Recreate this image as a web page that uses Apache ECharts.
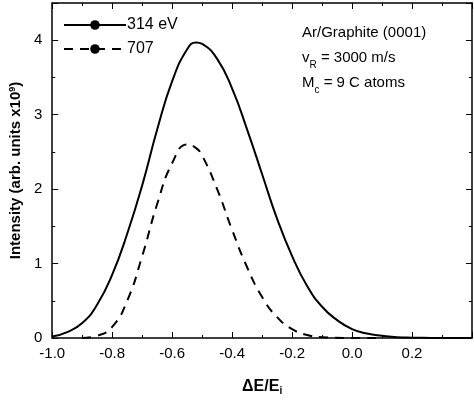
<!DOCTYPE html>
<html><head><meta charset="utf-8">
<script src="https://cdn.jsdelivr.net/npm/echarts@6/dist/echarts.min.js"></script>
<style>body{margin:0}#c{width:474px;height:401px}</style>
</head><body><div id="c"></div>
<script>
var solidX = [-1.0,-0.95,-0.9,-0.85,-0.8,-0.75,-0.7,-0.65,-0.6,-0.55,-0.52,-0.5,-0.45,-0.4,-0.35,-0.3,-0.25,-0.2,-0.15,-0.1,-0.05,0,0.05,0.1,0.15,0.2,0.3,0.4];
var solidY = [0.02,0.08,0.2,0.45,0.85,1.4,2.05,2.8,3.45,3.88,3.97,3.95,3.75,3.35,2.8,2.2,1.6,1.1,0.7,0.42,0.24,0.12,0.06,0.03,0.01,0.005,0,0];
var dashX = [-0.9,-0.85,-0.8,-0.75,-0.7,-0.65,-0.6,-0.55,-0.52,-0.5,-0.45,-0.4,-0.35,-0.3,-0.25,-0.2,-0.15,-0.1,0,0.1];
var dashY = [0,0.03,0.15,0.5,1.1,1.8,2.35,2.6,2.55,2.45,2.0,1.45,0.95,0.55,0.28,0.12,0.04,0.01,0,0];
function pairs(xs, ys){ return xs.map(function(x,i){ return [x, ys[i]]; }); }

var font = 'Liberation Sans, Arial, sans-serif';
var axisCommon = {
  axisLine:{onZero:false,lineStyle:{color:'#000',width:1.5}},
  axisTick:{inside:true,length:6,lineStyle:{color:'#000'}},
  minorTick:{show:true,splitNumber:2,length:3,lineStyle:{color:'#000'}},
  splitLine:{show:false}
};
var chart = echarts.init(document.getElementById('c'));
chart.setOption({
  animation:false,
  grid:{left:45,right:2,top:3,bottom:56},
  legend:{
    left:58, top:12, orient:'vertical', itemWidth:62, itemHeight:12, itemGap:8,
    textStyle:{fontFamily:font,fontSize:16,color:'#000',padding:[0,0,0,-4]},
    data:['314 eV','707']
  },
  xAxis:[Object.assign({type:'value',min:-1.0,max:0.4,interval:0.2,
    name:'ΔE/E{s|i}',nameLocation:'middle',nameGap:40,
    nameTextStyle:{fontFamily:font,fontSize:16,fontWeight:'bold',color:'#000',rich:{s:{fontSize:10,fontWeight:'bold',verticalAlign:'bottom',padding:[8,0,0,0]}}},
    axisLabel:{fontFamily:font,fontSize:15,color:'#000',showMaxLabel:false,formatter:function(v){return v.toFixed(1);}}
  },axisCommon),
  Object.assign({type:'value',position:'top',min:-1.0,max:0.4,interval:0.2,axisLabel:{show:false}},axisCommon)],
  yAxis:[Object.assign({type:'value',min:0,max:4.5,interval:1,
    name:'Intensity (arb. units x10{p|9})',nameLocation:'middle',nameGap:28,
    nameTextStyle:{fontFamily:font,fontSize:15,fontWeight:'bold',color:'#000',rich:{p:{fontSize:9,fontWeight:'bold',verticalAlign:'top'}}},
    axisLabel:{fontFamily:font,fontSize:15,color:'#000',margin:10,showMaxLabel:false}
  },axisCommon),
  Object.assign({type:'value',position:'right',min:0,max:4.5,interval:1,axisLabel:{show:false}},axisCommon)],
  graphic:[{
    type:'text', left:302, top:20,
    style:{
      text:'Ar/Graphite (0001)\nv{s|R} = 3000 m/s\nM{s|c} = 9 C atoms',
      font:'15px '+font, fill:'#000', lineHeight:25,
      rich:{s:{fontSize:10,verticalAlign:'bottom',padding:[8,0,0,0],fill:'#000',fontFamily:font}}
    }
  }],
  series:[
    {name:'314 eV',type:'line',smooth:true,symbol:'none',data:pairs(solidX,solidY),
     lineStyle:{color:'#000',width:2},itemStyle:{color:'#000'}},
    {name:'707',type:'line',smooth:true,symbol:'none',data:pairs(dashX,dashY),
     lineStyle:{color:'#000',width:2,type:[9,7]},itemStyle:{color:'#000'}}
  ]
});
</script></body></html>
